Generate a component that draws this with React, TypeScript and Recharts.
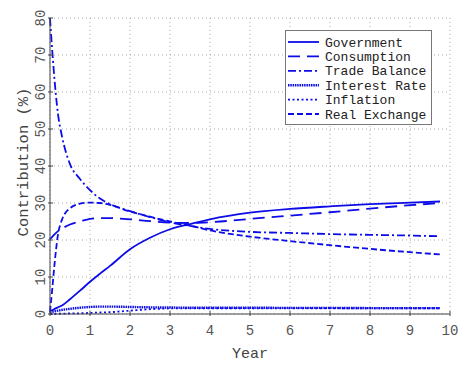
import { LineChart, Line, XAxis, YAxis, CartesianGrid, Legend } from 'recharts';

const years = [0, 0.05, 0.1, 0.2, 0.3, 0.5, 0.75, 1, 1.25, 1.5, 2, 2.5, 3, 3.5, 4, 5, 6, 7, 8, 9, 9.75];
const government = [0.8, 1.0, 1.3, 1.8, 2.3, 4.0, 6.3, 8.7, 10.9, 13.0, 17.5, 20.6, 22.9, 24.3, 25.6, 27.4, 28.4, 29.1, 29.7, 30.1, 30.4];
const consumption = [20.2, 20.8, 21.4, 22.4, 23.1, 24.2, 25.0, 25.7, 25.9, 25.9, 25.6, 25.1, 24.7, 24.6, 24.8, 25.7, 26.6, 27.5, 28.5, 29.4, 30.0];
const tradeBalance = [80, 72, 65, 54, 48, 40.5, 36.5, 33.5, 31.2, 29.7, 27.8, 26.2, 24.8, 23.8, 23.0, 22.2, 21.9, 21.6, 21.4, 21.2, 21.0];
const interestRate = [0.5, 0.6, 0.7, 0.9, 1.1, 1.4, 1.7, 1.9, 2.0, 2.0, 1.9, 1.8, 1.75, 1.7, 1.7, 1.7, 1.65, 1.65, 1.6, 1.6, 1.6];
const inflation = [0, 0, 0, 0.05, 0.1, 0.15, 0.2, 0.3, 0.4, 0.5, 0.9, 1.3, 1.5, 1.55, 1.55, 1.55, 1.55, 1.55, 1.55, 1.55, 1.55];
const realExchange = [0.6, 6, 12, 21.5, 25.5, 28.6, 29.8, 30.1, 30.0, 29.5, 27.7, 26.3, 25.0, 23.9, 22.6, 20.9, 19.7, 18.6, 17.6, 16.7, 16.1];

const xTicks = [0, 1, 2, 3, 4, 5, 6, 7, 8, 9, 10];
const yTicks = [0, 10, 20, 30, 40, 50, 60, 70, 80];

const data = years.map((year, i) => ({
    year,
    government: government[i],
    consumption: consumption[i],
    tradeBalance: tradeBalance[i],
    interestRate: interestRate[i],
    inflation: inflation[i],
    realExchange: realExchange[i],
}));

const BLUE = '#0c0ce8';
const FRAME = '#444';
const FONT = '"Liberation Mono", "DejaVu Sans Mono", monospace';

const SERIES = [
    { key: 'government', name: 'Government', dash: undefined, width: 1.8 },
    { key: 'consumption', name: 'Consumption', dash: '12 7', width: 1.8 },
    { key: 'tradeBalance', name: 'Trade Balance', dash: '8 3 2 3', width: 1.8 },
    { key: 'interestRate', name: 'Interest Rate', dash: '1.5 0.8', width: 2.4 },
    { key: 'inflation', name: 'Inflation', dash: '2 2.5', width: 1.8 },
    { key: 'realExchange', name: 'Real Exchange', dash: '6 3', width: 1.8 },
];

function BottomTick({ x, y, payload }: any) {
    return (
        <g>
            <line x1={x} x2={x} y1={y} y2={y - 5} stroke={FRAME} />
            <text x={x} y={y + 19} textAnchor="middle" fontFamily={FONT} fontSize={14} fill="#555">
                {payload.value}
            </text>
        </g>
    );
}

function LeftTick({ x, y, payload }: any) {
    const tx = x - 3;
    return (
        <g>
            <line x1={x} x2={x + 5} y1={y} y2={y} stroke={FRAME} />
            <text x={tx} y={y} transform={`rotate(-90 ${tx} ${y})`} textAnchor="middle" fontFamily={FONT} fontSize={14} fill="#555">
                {payload.value}
            </text>
        </g>
    );
}

function TopTick({ x, y }: any) {
    return <line x1={x} x2={x} y1={y} y2={y + 5} stroke={FRAME} />;
}

function RightTick({ x, y }: any) {
    return <line x1={x - 5} x2={x} y1={y} y2={y} stroke={FRAME} />;
}

function LegendBox() {
    return (
        <svg width={147} height={95}>
            <rect x={0.5} y={0.5} width={146} height={94} fill="#fff" stroke="#777" />
            {SERIES.map((s, i) => {
                const cy = 12 + i * 14.4;
                return (
                    <g key={s.key}>
                        <line x1={3} x2={34} y1={cy} y2={cy} stroke={BLUE} strokeWidth={s.width} strokeDasharray={s.dash} />
                        <text x={40} y={cy + 4.5} fontFamily={FONT} fontSize={13} fill="#222">
                            {s.name}
                        </text>
                    </g>
                );
            })}
        </svg>
    );
}

export default function App() {
    return (
        <LineChart width={466} height={358} data={data} margin={{ top: 10, right: 24, left: 0, bottom: 0 }}>
            <CartesianGrid strokeDasharray="1 3" stroke="#aaa" />
            <XAxis
                dataKey="year"
                type="number"
                domain={[0, 10]}
                ticks={xTicks}
                height={52}
                stroke={FRAME}
                tickLine={false}
                tickSize={0}
                tick={<BottomTick />}
                label={({ viewBox }: any) => (
                    <text x={viewBox.x + viewBox.width / 2} y={viewBox.y + 44} textAnchor="middle" fontFamily={FONT} fontSize={15} fill="#444">
                        Year
                    </text>
                )}
            />
            <XAxis xAxisId="top" orientation="top" type="number" domain={[0, 10]} ticks={xTicks} height={0} stroke={FRAME} tickLine={false} tickSize={0} tick={<TopTick />} />
            <YAxis
                type="number"
                domain={[0, 80]}
                ticks={yTicks}
                width={42}
                stroke={FRAME}
                tickLine={false}
                tickSize={0}
                tick={<LeftTick />}
                label={({ viewBox }: any) => {
                    const cx = 20;
                    const cy = viewBox.y + viewBox.height / 2 - 4;
                    return (
                        <text x={cx} y={cy} transform={`rotate(-90 ${cx} ${cy})`} textAnchor="middle" fontFamily={FONT} fontSize={15.5} fill="#444">
                            Contribution (%)
                        </text>
                    );
                }}
            />
            <YAxis yAxisId="right" orientation="right" type="number" domain={[0, 80]} ticks={yTicks} width={0} stroke={FRAME} tickLine={false} tickSize={0} tick={<RightTick />} />
            <Legend
                layout="vertical"
                align="center"
                verticalAlign="middle"
                content={() => <LegendBox />}
                wrapperStyle={{ left: 277, top: 22, width: 147, height: 95 }}
            />
            {SERIES.map((s) => (
                <Line
                    key={s.key}
                    dataKey={s.key}
                    name={s.name}
                    type="monotone"
                    stroke={BLUE}
                    strokeWidth={s.width}
                    strokeDasharray={s.dash}
                    dot={false}
                    isAnimationActive={false}
                />
            ))}
        </LineChart>
    );
}
